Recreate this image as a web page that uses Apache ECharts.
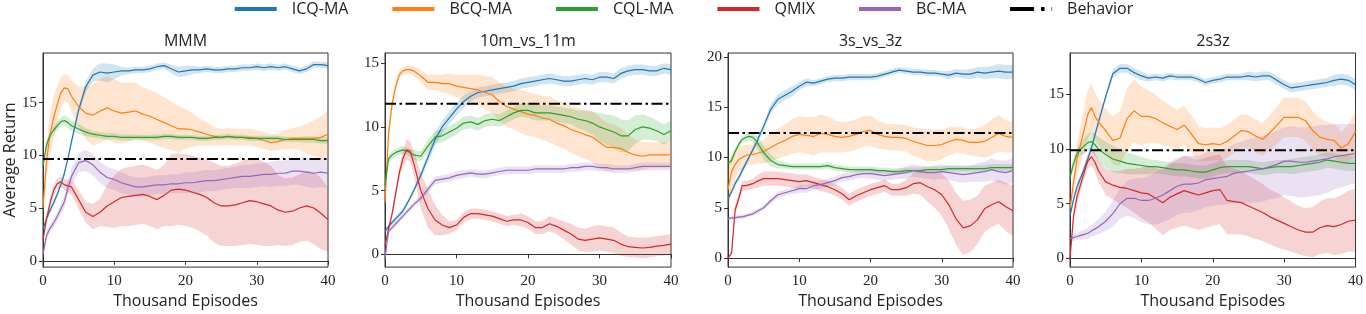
<!DOCTYPE html>
<html>
<head>
<meta charset="utf-8">
<script src="https://cdn.jsdelivr.net/npm/echarts@6/dist/echarts.min.js"></script>
<style>
  html, body { margin: 0; padding: 0; background: #fff; }
  #main { width: 1366px; height: 314px; }
</style>
</head>
<body>
<div id="main"></div>
<script>
// thousand episodes
const X = [0, 0.5, 1, 1.5, 2, 2.5, 3, 3.5, 4,
  5, 6, 7, 8, 9, 10, 11, 12, 13, 14,
  15, 16, 17, 18, 19, 20, 21, 22, 23, 24,
  25, 26, 27, 28, 29, 30, 31, 32, 33, 34,
  35, 36, 37, 38, 39, 40];
const X_TICKS = [0, 10, 20, 30, 40];
const PANELS = ['MMM', '10m_vs_11m', '3s_vs_3z', '2s3z'];
const ALGOS = ['ICQ-MA', 'BCQ-MA', 'CQL-MA', 'QMIX', 'BC-MA'];
const BEHAVIOR = [9.65, 11.82, 12.45, 9.9];
const Y_TICKS = [[0, 5, 10, 15], [0, 5, 10, 15], [0, 5, 10, 15, 20], [0, 5, 10, 15]];

// ---- MMM ----
const MMM_ICQ = [3.0, 4.0, 4.8, 5.5, 6.3, 7.2, 8.3, 9.7, 11.3,
  14.3, 16.5, 17.6, 17.9, 17.8, 17.9, 18.0, 18.0, 18.1, 18.1,
  18.2, 18.4, 18.5, 18.2, 17.9, 18.0, 18.1, 18.1, 18.2, 18.1,
  18.1, 18.2, 18.2, 18.3, 18.3, 18.4, 18.3, 18.4, 18.3, 18.4,
  18.2, 18.0, 18.2, 18.6, 18.6, 18.5];
const MMM_ICQ_SD = [0.3, 0.3, 0.3, 0.3, 0.3, 0.3, 0.3, 0.3, 0.3,
  0.4, 0.5, 0.6, 0.8, 0.9, 0.7, 0.4, 0.3, 0.3, 0.3,
  0.3, 0.3, 0.3, 0.4, 0.5, 0.5, 0.4, 0.3, 0.3, 0.3,
  0.3, 0.3, 0.3, 0.3, 0.3, 0.3, 0.3, 0.3, 0.3, 0.3,
  0.3, 0.3, 0.3, 0.3, 0.3, 0.3];
const MMM_BCQ = [5.0, 9.5, 12.0, 13.6, 14.8, 15.9, 16.4, 16.3, 15.6,
  14.6, 14.0, 13.8, 14.2, 14.5, 14.2, 14.0, 14.1, 14.2, 13.9,
  13.7, 13.4, 13.1, 12.8, 12.5, 12.5, 12.4, 12.2, 12.0, 11.8,
  11.7, 11.8, 11.7, 11.7, 11.7, 11.6, 11.4, 11.2, 11.3, 11.5,
  11.6, 11.6, 11.6, 11.6, 11.7, 12.0];
const MMM_BCQ_SD = [0.5, 1.5, 2.0, 2.0, 1.8, 1.5, 1.3, 1.3, 1.5,
  1.9, 2.5, 2.9, 3.0, 3.0, 3.0, 2.9, 2.8, 2.7, 2.5,
  2.5, 2.5, 2.4, 2.3, 2.2, 1.9, 1.6, 1.3, 1.1, 0.9,
  0.8, 0.8, 0.8, 0.8, 0.8, 0.8, 0.8, 0.8, 0.8, 0.9,
  1.0, 1.1, 1.4, 1.7, 2.0, 2.2];
const MMM_CQL = [9.0, 11.0, 11.9, 12.4, 12.8, 13.2, 13.3, 13.1, 12.8,
  12.5, 12.2, 12.0, 11.9, 11.8, 11.8, 11.7, 11.7, 11.7, 11.7,
  11.7, 11.7, 11.8, 11.8, 11.7, 11.7, 11.7, 11.6, 11.6, 11.7,
  11.7, 11.8, 11.7, 11.7, 11.6, 11.6, 11.6, 11.6, 11.6, 11.5,
  11.5, 11.5, 11.5, 11.5, 11.4, 11.4];
const MMM_CQL_SD = [0.4, 0.4, 0.4, 0.4, 0.4, 0.4, 0.5, 0.5, 0.5,
  0.5, 0.4, 0.3, 0.3, 0.3, 0.3, 0.3, 0.3, 0.25, 0.25,
  0.25, 0.25, 0.25, 0.25, 0.25, 0.25, 0.25, 0.25, 0.25, 0.25,
  0.25, 0.25, 0.25, 0.25, 0.25, 0.25, 0.25, 0.25, 0.25, 0.25,
  0.25, 0.25, 0.3, 0.3, 0.3, 0.3];
const MMM_QMIX = [2.0, 4.0, 5.5, 6.7, 7.3, 7.5, 7.2, 7.1, 7.0,
  5.8, 4.6, 4.2, 4.6, 5.2, 5.6, 6.0, 6.1, 6.2, 6.3,
  6.1, 5.8, 6.2, 6.7, 6.8, 6.7, 6.5, 6.3, 6.0, 5.5,
  5.2, 5.2, 5.3, 5.5, 5.7, 5.6, 5.4, 5.2, 4.8, 4.6,
  4.7, 5.0, 5.2, 5.0, 4.5, 3.9];
const MMM_QMIX_SD = [0.3, 0.4, 0.5, 0.5, 0.5, 0.5, 0.5, 0.6, 0.7,
  0.9, 1.0, 1.2, 1.3, 2.0, 2.5, 2.7, 2.8, 2.8, 2.8,
  2.8, 2.8, 2.9, 3.4, 3.4, 3.4, 3.4, 3.5, 3.6, 3.8,
  3.8, 3.8, 3.9, 4.0, 4.1, 4.1, 4.0, 3.8, 3.3, 3.2,
  3.2, 3.2, 3.3, 3.4, 3.4, 3.0];
const MMM_BC = [0.6, 2.4, 3.1, 3.6, 4.2, 4.9, 5.6, 6.9, 8.0,
  9.3, 9.5, 9.1, 8.4, 7.9, 7.7, 7.4, 7.2, 7.0, 7.0,
  7.1, 7.2, 7.2, 7.3, 7.3, 7.4, 7.4, 7.5, 7.6, 7.6,
  7.7, 7.8, 7.9, 8.0, 8.0, 8.1, 8.2, 8.2, 8.3, 8.3,
  8.5, 8.5, 8.4, 8.3, 8.4, 8.3];
const MMM_BC_SD = [0.3, 0.4, 0.4, 0.4, 0.4, 0.5, 0.6, 0.7, 0.8,
  0.9, 1.0, 1.0, 1.0, 1.0, 1.0, 1.0, 0.9, 0.9, 0.9,
  0.9, 0.9, 0.9, 0.9, 0.9, 1.0, 1.0, 1.0, 1.0, 1.0,
  1.0, 1.0, 1.0, 1.1, 1.1, 1.1, 1.1, 1.2, 1.2, 1.2,
  1.3, 1.3, 1.4, 1.4, 1.4, 1.4];

// ---- 10m_vs_11m ----
const M10_ICQ = [1.8, 2.2, 2.5, 2.8, 3.1, 3.4, 3.9, 4.4, 5.0,
  6.2, 7.6, 9.0, 10.0, 10.7, 11.4, 12.0, 12.4, 12.7, 12.8,
  12.9, 13.0, 13.1, 13.2, 13.4, 13.5, 13.6, 13.7, 13.8, 13.7,
  13.6, 13.6, 13.7, 13.8, 13.7, 13.9, 13.9, 13.8, 14.2, 14.4,
  14.5, 14.5, 14.4, 14.4, 14.6, 14.5];
const M10_ICQ_SD = [0.2, 0.2, 0.2, 0.2, 0.2, 0.2, 0.2, 0.2, 0.2,
  0.3, 0.4, 0.5, 0.5, 0.5, 0.5, 0.5, 0.4, 0.4, 0.4,
  0.4, 0.4, 0.4, 0.4, 0.4, 0.4, 0.4, 0.4, 0.4, 0.4,
  0.4, 0.4, 0.4, 0.4, 0.4, 0.4, 0.4, 0.4, 0.4, 0.4,
  0.4, 0.4, 0.4, 0.4, 0.4, 0.4];
const M10_BCQ = [4.1, 9.5, 11.8, 13.2, 14.1, 14.4, 14.5, 14.5, 14.4,
  14.0, 13.5, 13.5, 13.4, 13.4, 13.2, 13.1, 13.0, 12.9, 12.7,
  12.5, 12.0, 11.6, 11.4, 11.2, 11.0, 10.9, 10.7, 10.6, 10.3,
  10.1, 9.8, 9.6, 9.4, 9.2, 8.8, 8.4, 8.4, 8.3, 8.0,
  7.8, 7.7, 7.8, 7.8, 7.8, 7.8];
const M10_BCQ_SD = [0.3, 0.8, 0.6, 0.4, 0.3, 0.3, 0.3, 0.3, 0.4,
  0.5, 0.6, 0.6, 0.7, 0.8, 0.9, 1.0, 1.1, 1.2, 1.3,
  1.4, 1.5, 1.6, 1.6, 1.7, 1.7, 1.7, 1.7, 1.8, 1.8,
  1.8, 1.8, 1.9, 1.9, 2.0, 2.0, 1.9, 1.8, 1.6, 1.4,
  1.2, 1.1, 1.0, 1.0, 1.0, 1.0];
const M10_CQL = [5.4, 7.5, 7.8, 8.0, 8.1, 8.2, 8.1, 8.0, 7.8,
  7.7, 8.5, 9.2, 9.3, 9.6, 9.9, 10.3, 10.4, 10.2, 10.5,
  10.6, 10.5, 10.8, 11.1, 11.3, 11.3, 11.1, 11.1, 11.1, 11.0,
  10.9, 10.8, 10.6, 10.5, 10.3, 10.0, 9.8, 9.6, 9.3, 9.3,
  9.8, 10.0, 9.9, 9.7, 9.4, 9.7];
const M10_CQL_SD = [0.3, 0.3, 0.3, 0.3, 0.3, 0.3, 0.3, 0.3, 0.4,
  0.4, 0.5, 0.5, 0.5, 0.5, 0.5, 0.5, 0.5, 0.5, 0.5,
  0.5, 0.5, 0.5, 0.5, 0.5, 0.6, 0.6, 0.6, 0.6, 0.6,
  0.6, 0.6, 0.7, 0.8, 0.9, 1.1, 1.2, 1.3, 1.3, 1.2,
  1.1, 1.0, 0.9, 0.8, 0.8, 0.8];
const M10_QMIX = [0.7, 2.0, 3.2, 4.8, 6.4, 7.5, 8.2, 8.1, 7.2,
  5.0, 3.6, 2.7, 2.3, 2.1, 2.3, 2.9, 3.2, 3.2, 3.1,
  3.0, 2.8, 2.6, 2.7, 2.7, 2.5, 2.1, 2.1, 2.4, 2.2,
  1.9, 1.6, 1.2, 1.1, 1.2, 1.3, 1.2, 1.1, 0.8, 0.6,
  0.55, 0.5, 0.55, 0.65, 0.7, 0.8];
const M10_QMIX_SD = [0.2, 0.3, 0.3, 0.4, 0.5, 0.6, 0.8, 0.8, 0.9,
  1.4, 1.5, 1.2, 0.8, 0.5, 0.4, 0.4, 0.4, 0.4, 0.4,
  0.4, 0.4, 0.4, 0.4, 0.5, 0.5, 0.5, 0.5, 0.6, 0.6,
  0.7, 0.8, 0.9, 0.9, 1.0, 1.0, 1.0, 1.0, 0.9, 0.8,
  0.8, 0.8, 0.8, 0.8, 0.8, 0.8];
const M10_BC = [-0.3, 1.8, 2.1, 2.4, 2.7, 3.0, 3.3, 3.6, 3.9,
  4.4, 5.1, 5.8, 5.9, 6.0, 6.2, 6.3, 6.4, 6.3, 6.3,
  6.4, 6.5, 6.6, 6.6, 6.6, 6.6, 6.7, 6.7, 6.7, 6.7,
  6.7, 6.8, 6.8, 6.9, 6.9, 6.8, 6.8, 6.7, 6.7, 6.7,
  6.8, 6.9, 6.9, 6.9, 6.9, 6.9];
const M10_BC_SD = [0.2, 0.2, 0.2, 0.2, 0.2, 0.2, 0.2, 0.2, 0.2,
  0.3, 0.3, 0.3, 0.3, 0.3, 0.3, 0.3, 0.3, 0.3, 0.3,
  0.3, 0.3, 0.3, 0.3, 0.3, 0.3, 0.3, 0.3, 0.3, 0.3,
  0.3, 0.3, 0.3, 0.3, 0.3, 0.3, 0.3, 0.3, 0.3, 0.3,
  0.3, 0.3, 0.3, 0.3, 0.3, 0.3];

// ---- 3s_vs_3z ----
const S3_ICQ = [5.9, 6.6, 7.4, 8.0, 8.7, 9.4, 10.1, 10.8, 11.5,
  13.1, 14.8, 15.8, 16.2, 16.6, 17.1, 17.5, 17.4, 17.6, 17.8,
  17.9, 17.9, 18.0, 18.0, 18.0, 18.0, 18.1, 18.3, 18.5, 18.7,
  18.6, 18.5, 18.5, 18.4, 18.4, 18.3, 18.2, 18.4, 18.3, 18.3,
  18.5, 18.4, 18.5, 18.6, 18.5, 18.5];
const S3_ICQ_SD = [0.3, 0.3, 0.3, 0.3, 0.3, 0.3, 0.3, 0.3, 0.3,
  0.4, 0.5, 0.5, 0.5, 0.5, 0.4, 0.4, 0.3, 0.3, 0.3,
  0.3, 0.3, 0.3, 0.3, 0.3, 0.3, 0.3, 0.3, 0.3, 0.3,
  0.3, 0.3, 0.3, 0.3, 0.3, 0.3, 0.4, 0.4, 0.4, 0.5,
  0.5, 0.6, 0.6, 0.7, 0.7, 0.7];
const S3_BCQ = [6.8, 8.6, 9.3, 9.8, 10.0, 10.2, 10.3, 10.3, 10.4,
  10.6, 11.0, 11.4, 11.7, 12.1, 12.3, 12.2, 12.1, 12.4, 12.3,
  12.1, 12.0, 12.1, 12.3, 12.6, 12.7, 12.3, 12.1, 12.0, 12.0,
  11.9, 11.6, 11.4, 11.2, 11.2, 11.3, 11.6, 11.8, 11.7, 11.5,
  11.5, 11.6, 12.0, 12.4, 12.1, 12.0];
const S3_BCQ_SD = [2.0, 1.8, 1.5, 1.3, 1.2, 1.0, 1.0, 1.0, 1.0,
  1.2, 1.4, 1.5, 1.6, 1.7, 1.8, 1.8, 1.9, 1.9, 1.8,
  1.6, 1.5, 1.5, 1.5, 1.5, 1.5, 1.4, 1.3, 1.3, 1.3,
  1.3, 1.4, 1.5, 1.6, 1.6, 1.5, 1.4, 1.3, 1.3, 1.3,
  1.4, 1.6, 1.8, 1.8, 1.6, 1.5];
const S3_CQL = [9.4, 9.7, 10.6, 11.3, 11.8, 12.0, 12.1, 12.0, 11.6,
  10.5, 9.7, 9.3, 9.2, 9.1, 9.1, 9.1, 9.1, 9.1, 9.2,
  9.0, 8.9, 8.8, 8.8, 8.8, 8.8, 8.7, 8.7, 8.6, 8.6,
  8.7, 8.7, 8.7, 8.8, 8.8, 8.8, 8.9, 8.9, 8.9, 8.9,
  8.9, 8.9, 9.0, 9.0, 9.0, 9.0];
const S3_CQL_SD = [0.3, 0.3, 0.3, 0.3, 0.3, 0.4, 0.4, 0.5, 0.6,
  0.7, 0.6, 0.4, 0.3, 0.3, 0.3, 0.3, 0.3, 0.3, 0.3,
  0.3, 0.3, 0.3, 0.3, 0.3, 0.3, 0.3, 0.3, 0.3, 0.3,
  0.3, 0.3, 0.3, 0.3, 0.3, 0.3, 0.3, 0.3, 0.3, 0.3,
  0.3, 0.35, 0.35, 0.35, 0.35, 0.35];
const S3_QMIX = [0.0, 0.5, 4.8, 5.9, 7.2, 7.2, 7.3, 7.4, 7.6,
  7.9, 7.9, 7.9, 7.8, 7.7, 7.6, 7.7, 7.5, 7.3, 7.1,
  6.8, 6.4, 5.8, 6.2, 6.5, 6.8, 7.0, 7.2, 6.8, 6.8,
  7.0, 7.4, 7.5, 7.1, 6.8, 6.3, 5.3, 3.9, 3.0, 3.2,
  3.8, 4.9, 5.3, 5.6, 5.1, 4.7];
const S3_QMIX_SD = [0.1, 0.3, 0.5, 0.5, 0.5, 0.5, 0.5, 0.5, 0.6,
  0.7, 0.7, 0.7, 0.7, 0.7, 0.7, 0.6, 0.6, 0.6, 0.6,
  0.6, 0.6, 0.6, 0.6, 0.6, 0.6, 0.6, 0.6, 0.6, 0.6,
  0.8, 1.0, 1.2, 1.5, 1.8, 2.1, 2.4, 2.6, 2.7, 2.6,
  2.4, 2.3, 2.2, 2.2, 2.4, 2.5];
const S3_BC = [3.9, 4.0, 4.0, 4.1, 4.1, 4.2, 4.3, 4.4, 4.6,
  5.0, 5.7, 6.3, 6.5, 6.7, 6.9, 6.9, 7.2, 7.3, 7.5,
  7.7, 8.0, 8.1, 8.3, 8.4, 8.4, 8.3, 8.2, 8.3, 8.4,
  8.5, 8.7, 8.6, 8.5, 8.5, 8.6, 8.5, 8.4, 8.3, 8.4,
  8.5, 8.6, 8.8, 8.6, 8.5, 8.7];
const S3_BC_SD = [0.2, 0.2, 0.2, 0.2, 0.2, 0.2, 0.2, 0.2, 0.2,
  0.2, 0.3, 0.3, 0.3, 0.3, 0.4, 0.4, 0.4, 0.4, 0.4,
  0.4, 0.4, 0.4, 0.4, 0.4, 0.5, 0.5, 0.5, 0.5, 0.5,
  0.6, 0.6, 0.6, 0.6, 0.7, 0.7, 0.7, 0.8, 0.8, 0.8,
  0.9, 1.0, 1.1, 1.1, 1.2, 1.2];

// ---- 2s3z ----
const Z2_ICQ = [3.9, 5.4, 6.6, 7.4, 8.2, 9.1, 10.1, 11.3, 12.5,
  14.8, 16.9, 17.4, 17.4, 17.0, 16.7, 16.5, 16.6, 16.5, 16.7,
  16.6, 16.6, 16.6, 16.4, 16.1, 16.3, 16.4, 16.6, 16.6, 16.6,
  16.7, 16.6, 16.7, 16.7, 16.3, 15.9, 15.6, 15.7, 15.8, 15.9,
  16.0, 16.1, 16.3, 16.4, 16.3, 15.9];
const Z2_ICQ_SD = [0.3, 0.3, 0.3, 0.3, 0.3, 0.3, 0.3, 0.3, 0.3,
  0.3, 0.4, 0.4, 0.4, 0.4, 0.4, 0.3, 0.3, 0.3, 0.3,
  0.3, 0.3, 0.3, 0.3, 0.3, 0.3, 0.3, 0.3, 0.3, 0.3,
  0.4, 0.4, 0.4, 0.4, 0.4, 0.4, 0.4, 0.4, 0.4, 0.4,
  0.4, 0.4, 0.5, 0.5, 0.5, 0.5];
const Z2_BCQ = [4.5, 7.0, 9.1, 10.5, 11.8, 13.2, 13.8, 13.0, 12.5,
  11.7, 10.8, 11.0, 12.8, 13.5, 13.0, 13.0, 12.8, 12.4, 12.1,
  11.8, 12.2, 11.4, 10.5, 10.4, 10.5, 10.4, 10.7, 11.2, 11.7,
  11.6, 11.2, 10.9, 11.5, 12.2, 12.9, 12.9, 12.9, 12.6, 11.7,
  11.1, 10.9, 10.8, 10.1, 10.5, 11.6];
const Z2_BCQ_SD = [0.5, 1.0, 1.5, 1.8, 2.0, 2.2, 2.2, 2.2, 2.1,
  2.0, 2.2, 2.5, 2.8, 2.9, 2.7, 2.4, 2.2, 2.0, 1.9,
  1.8, 1.8, 1.7, 1.6, 1.5, 1.5, 1.5, 1.5, 1.5, 1.5,
  1.5, 1.5, 1.5, 1.6, 1.7, 1.8, 1.8, 1.8, 1.8, 1.8,
  1.7, 1.6, 1.5, 1.5, 1.7, 2.0];
const Z2_CQL = [7.4, 8.7, 9.6, 10.0, 10.3, 10.6, 10.7, 10.4, 10.0,
  9.5, 9.1, 8.9, 8.7, 8.6, 8.5, 8.4, 8.4, 8.3, 8.2,
  8.1, 8.1, 8.0, 7.9, 7.9, 8.1, 8.3, 8.4, 8.4, 8.4,
  8.4, 8.3, 8.2, 8.3, 8.4, 8.4, 8.4, 8.5, 8.6, 8.7,
  8.8, 9.0, 8.9, 8.8, 8.7, 8.7];
const Z2_CQL_SD = [0.4, 0.5, 0.5, 0.6, 0.7, 0.8, 0.9, 1.0, 1.1,
  1.2, 1.2, 1.1, 1.0, 0.9, 0.8, 0.7, 0.6, 0.6, 0.6,
  0.6, 0.6, 0.6, 0.6, 0.6, 0.6, 0.6, 0.6, 0.6, 0.6,
  0.6, 0.6, 0.6, 0.6, 0.6, 0.6, 0.7, 0.7, 0.7, 0.7,
  0.7, 0.7, 0.7, 0.7, 0.7, 0.7];
const Z2_QMIX = [0.0, 3.9, 5.7, 6.8, 7.9, 8.9, 9.3, 8.8, 8.0,
  7.0, 6.7, 6.5, 6.4, 6.2, 6.0, 5.9, 5.5, 5.1, 5.6,
  5.9, 6.2, 6.0, 5.8, 6.0, 6.2, 6.3, 5.3, 5.2, 5.1,
  4.8, 4.5, 4.2, 3.8, 3.5, 3.2, 2.9, 2.6, 2.4, 2.4,
  2.8, 3.0, 2.9, 3.1, 3.4, 3.5];
const Z2_QMIX_SD = [0.2, 0.5, 0.6, 0.6, 0.7, 0.7, 0.8, 0.9, 1.0,
  1.2, 1.3, 1.5, 1.8, 2.0, 2.3, 2.6, 2.8, 3.0, 3.0,
  3.1, 3.2, 3.2, 3.2, 3.2, 3.2, 3.2, 3.1, 3.0, 2.9,
  2.8, 2.7, 2.6, 2.5, 2.5, 2.4, 2.3, 2.2, 2.2, 2.3,
  2.4, 2.5, 2.6, 2.7, 2.8, 2.9];
const Z2_BC = [1.8, 1.9, 2.0, 2.1, 2.2, 2.3, 2.5, 2.7, 2.9,
  3.4, 4.1, 5.0, 5.5, 5.5, 5.3, 5.3, 5.5, 5.8, 6.2,
  6.6, 6.8, 6.8, 6.9, 7.2, 7.3, 7.4, 7.5, 7.8, 7.9,
  8.0, 8.1, 8.2, 8.4, 8.6, 8.9, 8.9, 8.8, 8.8, 8.9,
  9.0, 9.1, 9.3, 9.4, 9.5, 9.6];
const Z2_BC_SD = [0.3, 0.3, 0.3, 0.4, 0.4, 0.5, 0.5, 0.6, 0.7,
  0.9, 1.2, 1.4, 1.6, 1.8, 2.0, 2.2, 2.4, 2.5, 2.6,
  2.6, 2.6, 2.6, 2.5, 2.5, 2.5, 2.5, 2.6, 2.7, 2.8,
  2.9, 3.0, 3.0, 3.0, 3.1, 3.1, 3.2, 3.2, 3.2, 3.2,
  3.2, 3.1, 3.0, 2.9, 2.8, 2.7];

const MEANS = [
  [MMM_ICQ, MMM_BCQ, MMM_CQL, MMM_QMIX, MMM_BC],
  [M10_ICQ, M10_BCQ, M10_CQL, M10_QMIX, M10_BC],
  [S3_ICQ, S3_BCQ, S3_CQL, S3_QMIX, S3_BC],
  [Z2_ICQ, Z2_BCQ, Z2_CQL, Z2_QMIX, Z2_BC]
];
const SDS = [
  [MMM_ICQ_SD, MMM_BCQ_SD, MMM_CQL_SD, MMM_QMIX_SD, MMM_BC_SD],
  [M10_ICQ_SD, M10_BCQ_SD, M10_CQL_SD, M10_QMIX_SD, M10_BC_SD],
  [S3_ICQ_SD, S3_BCQ_SD, S3_CQL_SD, S3_QMIX_SD, S3_BC_SD],
  [Z2_ICQ_SD, Z2_BCQ_SD, Z2_CQL_SD, Z2_QMIX_SD, Z2_BC_SD]
];

const COLORS = ['#1f77b4', '#ff7f0e', '#2ca02c', '#d62728', '#9467bd'];
const GRID_LEFT = [43, 385, 728, 1070];
const GRID_W = [285, 286, 285, 286];
const Y_RANGE = [[-0.6, 19.7], [-1.0, 15.8], [-0.9, 20.4], [-0.8, 18.8]];
const SANS = 'Open Sans';
const SERIF = 'Liberation Serif';
const INK = '#222';

const chart = echarts.init(document.getElementById('main'));

// shaded mean +- sd band, drawn as one polygon through the axis scales
function bandSeries (p, mean, sd, color) {
  return {
    type: 'custom',
    xAxisIndex: p,
    yAxisIndex: p,
    silent: true,
    z: 1,
    data: [[X[0], mean[0]]],
    renderItem: function (params, api) {
      const upper = X.map((x, i) => api.coord([x, mean[i] + sd[i]]));
      const lower = X.map((x, i) => api.coord([x, mean[i] - sd[i]])).reverse();
      return {
        type: 'polygon',
        shape: { points: upper.concat(lower) },
        style: { fill: color, opacity: 0.2 }
      };
    }
  };
}

const grids = [];
const xAxes = [];
const yAxes = [];
const titles = [];
const series = [];

PANELS.forEach((name, p) => {
  grids.push({
    left: GRID_LEFT[p], top: 53, width: GRID_W[p], height: 216,
    show: true, borderColor: '#333', borderWidth: 1, backgroundColor: 'transparent'
  });
  xAxes.push({
    type: 'value', gridIndex: p, min: 0, max: 40, interval: 10,
    name: 'Thousand Episodes', nameLocation: 'middle', nameGap: 22,
    nameTextStyle: { fontFamily: SANS, fontSize: 16, color: INK },
    axisLine: { show: true, lineStyle: { color: '#333', width: 1 } },
    axisTick: { show: true, length: 4, lineStyle: { color: '#333' }, customValues: X_TICKS },
    axisLabel: { fontFamily: SERIF, fontSize: 15, color: INK, margin: 6, customValues: X_TICKS },
    splitLine: { show: false }
  });
  yAxes.push({
    type: 'value', gridIndex: p, min: Y_RANGE[p][0], max: Y_RANGE[p][1],
    name: p === 0 ? 'Average Return' : '', nameLocation: 'middle', nameGap: 24,
    nameTextStyle: { fontFamily: SANS, fontSize: 16, color: INK },
    axisLine: { show: true, onZero: false, lineStyle: { color: '#333', width: 1 } },
    axisTick: { show: true, length: 4, lineStyle: { color: '#333' }, customValues: Y_TICKS[p] },
    axisLabel: { fontFamily: SERIF, fontSize: 15, color: INK, margin: 6, customValues: Y_TICKS[p] },
    splitLine: { show: false }
  });
  titles.push({
    text: name, left: GRID_LEFT[p] + GRID_W[p] / 2, top: 33, textAlign: 'center', padding: 0,
    textStyle: { fontFamily: SANS, fontSize: 16, fontWeight: 'normal', color: INK }
  });

  ALGOS.forEach((algo, a) => {
    series.push(bandSeries(p, MEANS[p][a], SDS[p][a], COLORS[a]));
  });
  ALGOS.forEach((algo, a) => {
    series.push({
      name: algo,
      type: 'line',
      xAxisIndex: p,
      yAxisIndex: p,
      symbol: 'none',
      z: 2,
      data: X.map((x, i) => [x, MEANS[p][a][i]]),
      itemStyle: { color: COLORS[a] },
      lineStyle: { color: COLORS[a], width: 1.2 }
    });
  });
  series.push({
    name: 'Behavior',
    type: 'line',
    xAxisIndex: p,
    yAxisIndex: p,
    symbol: 'none',
    z: 3,
    data: [[0, BEHAVIOR[p]], [40, BEHAVIOR[p]]],
    itemStyle: { color: '#000' },
    lineStyle: { color: '#000', width: 2, type: [11, 3.5, 2.5, 3.5] }
  });
});

chart.setOption({
  backgroundColor: '#fff',
  animation: false,
  title: titles,
  legend: {
    top: 0,
    left: 'center',
    padding: [1, 0],
    itemWidth: 42,
    itemHeight: 14,
    itemGap: 42,
    selectedMode: false,
    itemStyle: { opacity: 0, borderWidth: 0 },
    lineStyle: { width: 4 },
    textStyle: { fontFamily: SANS, fontSize: 16, color: INK, padding: [0, 0, 0, 10] },
    data: ALGOS.concat([{ name: 'Behavior', lineStyle: { width: 4, type: [24, 7, 3.5, 7] } }])
  },
  grid: grids,
  xAxis: xAxes,
  yAxis: yAxes,
  series: series
});
</script>
</body>
</html>
